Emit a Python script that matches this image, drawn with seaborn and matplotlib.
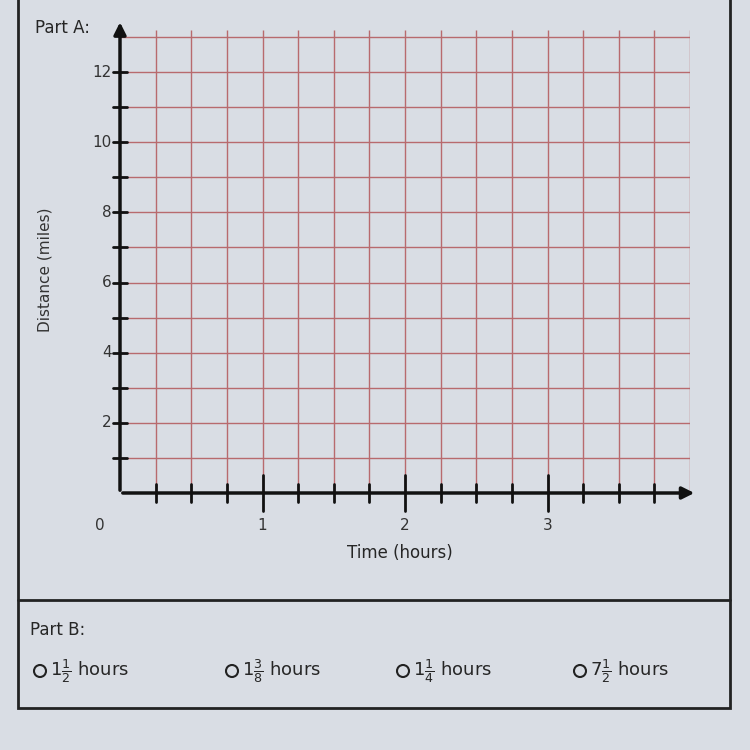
import matplotlib
matplotlib.use("Agg")
import matplotlib.pyplot as plt
import matplotlib.patches as mpatches
import numpy as np
import seaborn as sns

sns.set_style("white")
plt.rcParams['font.family'] = ['DejaVu Sans']

x_ticks = [1, 2, 3]
y_ticks = [2, 4, 6, 8, 10, 12]
x_grid = np.arange(0.25, 4.01, 0.25)
y_grid = np.arange(1, 14, 1)
options = [r"$1\frac{1}{2}$ hours", r"$1\frac{3}{8}$ hours", r"$1\frac{1}{4}$ hours", r"$7\frac{1}{2}$ hours"]
option_x = [40, 232, 403, 580]

bg = "#d9dde4"
grid_c = "#b86a6e"
fig = plt.figure(figsize=(7.5, 7.5), dpi=100, facecolor=bg)

fa = fig.add_axes([0, 0, 1, 1], facecolor="none")
fa.set_xlim(0, 750); fa.set_ylim(750, 0); fa.axis("off")
fa.add_patch(mpatches.Rectangle((18, -5), 712, 713, fill=False, lw=2, color="#222"))
fa.plot([18, 730], [600, 600], color="#222", lw=2)
fa.text(35, 28, "Part A:", fontsize=12, va="center")
fa.text(30, 630, "Part B:", fontsize=12, va="center")
for t, x in zip(options, option_x):
    fa.add_patch(mpatches.Circle((x, 671), 6, fill=False, lw=1.5, color="#222"))
    fa.text(x + 10, 671, t, fontsize=13, va="center")
fa.text(400, 553, "Time (hours)", fontsize=12, ha="center", va="center")
fa.text(45, 270, "Distance (miles)", fontsize=11, rotation=90, ha="center", va="center", color="#333")

ax = fig.add_axes([0.16, 1 - 493 / 750, 0.76, 463 / 750], facecolor="none")
ax.set_xlim(0, 4.0)
ax.set_ylim(0, 13.2)
ax.vlines(x_grid, 0, 13.2, color=grid_c, lw=1)
ax.hlines(y_grid, 0, 4.0, color=grid_c, lw=1)
for s in ax.spines.values():
    s.set_visible(False)
ax.set_xticks([]); ax.set_yticks([])
ax.annotate("", xy=(4.05, 0), xytext=(0, 0), annotation_clip=False,
            arrowprops=dict(arrowstyle="-|>", lw=2.5, color="#111", mutation_scale=18))
ax.annotate("", xy=(0, 13.5), xytext=(0, 0), annotation_clip=False,
            arrowprops=dict(arrowstyle="-|>", lw=2.5, color="#111", mutation_scale=18))
for xv in x_grid[:-1]:
    h = 0.5 if xv in x_ticks else 0.25
    ax.plot([xv, xv], [-h, h], color="#111", lw=2, clip_on=False)
for yv in y_grid[:-1]:
    ax.plot([-0.05, 0.05], [yv, yv], color="#111", lw=2, clip_on=False)
for yv in y_ticks:
    ax.text(-0.06, yv, str(yv), ha="right", va="center", fontsize=11, color="#333")
for xv in x_ticks:
    ax.text(xv, -0.7, str(xv), ha="center", va="top", fontsize=11, color="#333")
ax.text(-0.14, -0.7, "0", ha="center", va="top", fontsize=11, color="#333")

fig.savefig("out.png", dpi=100, facecolor=bg)
